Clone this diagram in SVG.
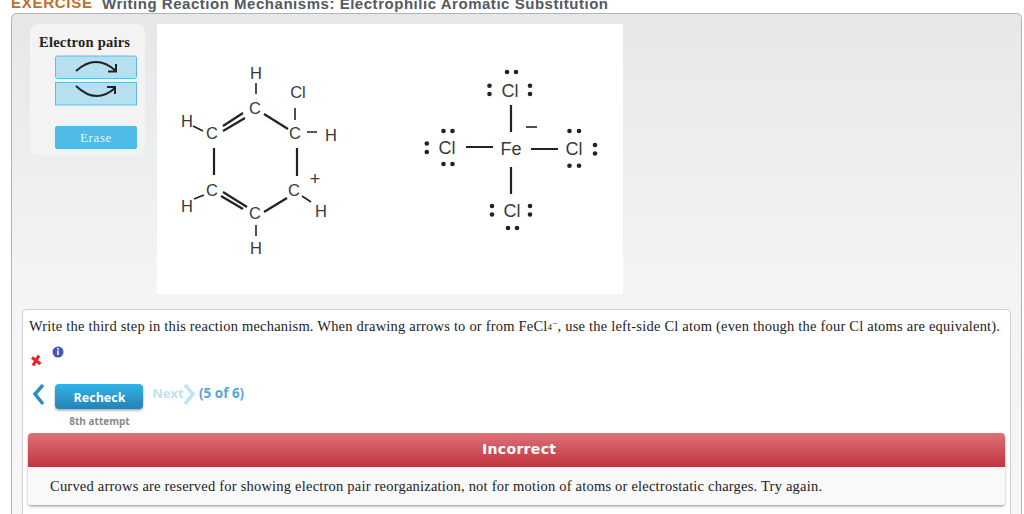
<svg xmlns="http://www.w3.org/2000/svg" width="1024" height="514" viewBox="0 0 1024 514">
<defs>
<linearGradient id="panelG" x1="0" y1="0" x2="0" y2="1"><stop offset="0" stop-color="#e6e7e9"/><stop offset="0.55" stop-color="#f4f4f5"/><stop offset="1" stop-color="#f6f6f6"/></linearGradient>
<linearGradient id="btnG" x1="0" y1="0" x2="0" y2="1"><stop offset="0" stop-color="#30b4e8"/><stop offset="1" stop-color="#2a80b4"/></linearGradient>
<linearGradient id="redG" x1="0" y1="0" x2="0" y2="1"><stop offset="0" stop-color="#dc7378"/><stop offset="1" stop-color="#c2343f"/></linearGradient>
<filter id="sh" x="-5%" y="-5%" width="110%" height="115%"><feDropShadow dx="0" dy="1.5" stdDeviation="1.2" flood-color="#000" flood-opacity="0.35"/></filter>
</defs>
<style>
.m{font-family:"Liberation Sans",Arial,sans-serif;fill:#3a3a3a}
.a{font-size:16.500px;text-anchor:middle}
.f{font-size:18px;text-anchor:middle}
.s{font-family:"Liberation Serif","Times New Roman",serif}
.b{font-family:"Liberation Sans",Arial,sans-serif;font-weight:700}
.o{font-family:"Open Sans","Liberation Sans",sans-serif;font-weight:700}
.bond{stroke:#222;stroke-width:2.2;fill:none;stroke-linecap:butt}
.thin{stroke:#222;stroke-width:1.6;fill:none}
.dot{fill:#222}
.arr{stroke:#222;stroke-width:2;fill:none}
</style>
<rect width="1024" height="514" fill="#fff"/>
<g id="header">
<text class="b" x="11" y="8" font-size="15" fill="#bd6f2c" textLength="81">EXERCISE</text>
<text class="b" x="102" y="9" font-size="15" fill="#555a60" textLength="506">Writing Reaction Mechanisms: Electrophilic Aromatic Substitution</text>
</g>
<rect id="outer-panel" x="11.500" y="13.500" width="1010" height="520" rx="5" fill="url(#panelG)" stroke="#b4b4b4"/>
<g id="toolbar">
<rect x="30" y="24" width="115" height="131" rx="8" fill="#f3f3f4"/>
<text class="s" x="39" y="47" font-size="14.500" font-weight="700" fill="#222" textLength="91">Electron pairs</text>
<rect x="55.500" y="56" width="81" height="22.500" rx="2" fill="#b6dff0" stroke="#5cbce4"/>
<rect x="55.500" y="82.500" width="81" height="22.500" fill="#b6dff0" stroke="#5cbce4"/>
<path class="arr" d="M76 71Q96 53 116 71M108 71.500L116 71.500L116 64"/>
<path class="arr" d="M76 86Q96 105 115 88M107 87L115 87L115 94"/>
<rect x="55" y="126" width="82" height="23" rx="2" fill="#4dbae8"/>
<text class="s" x="96" y="142" font-size="13" fill="#e8f6fc" text-anchor="middle" letter-spacing="0.600">Erase</text>
</g>
<rect id="canvas" x="157" y="24" width="466" height="270" fill="#fff"/>
<g id="connectors">
<path class="thin" d="M256 83V94"/>
<path class="bond" d="M214 148V175M297 148V176"/>
<path class="thin" d="M193 126L203 131"/>
<path class="bond" d="M223 126L243 113M223 131L245 118"/>
<path class="bond" d="M264 114L288 129"/>
<path class="thin" d="M295 108V120M307 132H317"/>
<path class="thin" d="M302 196L311 202"/>
<path class="thin" d="M194 199L204 195"/>
<path class="bond" d="M221 196L243 209M223 192L247 207"/>
<path class="bond" d="M264 212L287 198"/>
<path class="thin" d="M256 225V236"/>
<path class="bond" d="M511 105V132M466 147H493M531 149H558M511 167V194"/>
<path class="thin" d="M526 127H537"/>
</g>
<g id="arene">
<text class="m a" x="256" y="79">H</text>
<text class="m a" x="298" y="98">Cl</text>
<text class="m a" x="255" y="114">C</text>
<text class="m a" x="187" y="127">H</text>
<text class="m a" x="212" y="139">C</text>
<text class="m a" x="295" y="139">C</text>
<text class="m a" x="331" y="141">H</text>
<text class="m a" x="212" y="196">C</text>
<text class="m a" x="294" y="196">C</text>
<text class="m" x="315" y="185" font-size="18" text-anchor="middle" fill="#222">+</text>
<text class="m a" x="187" y="212">H</text>
<text class="m a" x="321" y="217">H</text>
<text class="m a" x="255" y="219">C</text>
<text class="m a" x="256" y="254">H</text>
</g>
<g id="fecl4">
<text class="m f" x="510" y="97">Cl</text>
<text class="m f" x="447" y="154">Cl</text>
<text class="m f" x="511" y="155">Fe</text>
<text class="m f" x="574" y="155">Cl</text>
<text class="m f" x="512" y="217">Cl</text>
<g class="dot">
<circle cx="507" cy="72" r="2.300"/><circle cx="516" cy="72" r="2.300"/>
<circle cx="489.500" cy="85.700" r="2.300"/><circle cx="489.500" cy="94" r="2.300"/>
<circle cx="530" cy="85.700" r="2.300"/><circle cx="530" cy="94" r="2.300"/>
<circle cx="443.500" cy="131" r="2.300"/><circle cx="452.500" cy="131" r="2.300"/>
<circle cx="443.500" cy="164" r="2.300"/><circle cx="452.500" cy="164" r="2.300"/>
<circle cx="426.800" cy="143.500" r="2.300"/><circle cx="426.800" cy="152" r="2.300"/>
<circle cx="569.500" cy="131" r="2.300"/><circle cx="579" cy="131" r="2.300"/>
<circle cx="569.500" cy="165.700" r="2.300"/><circle cx="579" cy="165.700" r="2.300"/>
<circle cx="595" cy="145" r="2.300"/><circle cx="595" cy="153.500" r="2.300"/>
<circle cx="492" cy="206" r="2.300"/><circle cx="492" cy="214.500" r="2.300"/>
<circle cx="530" cy="206" r="2.300"/><circle cx="530" cy="214.500" r="2.300"/>
<circle cx="508" cy="228" r="2.300"/><circle cx="517" cy="228" r="2.300"/>
</g>
</g>
<g id="question">
<rect x="22.500" y="309.500" width="988" height="215" rx="4" fill="#fff" stroke="#cfcfcf"/>
<text class="s" x="29" y="331" font-size="14.500" fill="#222" textLength="971">Write the third step in this reaction mechanism. When drawing arrows to or from FeCl<tspan font-size="9" dy="-1">4</tspan><tspan font-size="9" dy="-4">−</tspan><tspan dy="5">, use the left-side Cl atom (even though the four Cl atoms are equivalent).</tspan></text>
<path d="M33 365.500L39 355.500M32 357.500L40.500 364" stroke="#e8222c" stroke-width="3" fill="none"/>
<circle cx="58" cy="352" r="5.500" fill="#4a55b8"/>
<rect x="57.200" y="348" width="1.600" height="1.600" fill="#fff"/><rect x="57.200" y="350.500" width="1.600" height="4.500" fill="#fff"/>
<path d="M43 385L35 394L43 404" stroke="#2a8fc0" stroke-width="3.500" fill="none"/>
<rect x="55" y="384" width="88" height="25" rx="4" fill="url(#btnG)" filter="url(#sh)"/>
<text class="o" x="99.500" y="402" font-size="12.500" fill="#fff" text-anchor="middle">Recheck</text>
<text class="o" x="168" y="398" font-size="13" fill="#bde3f5" text-anchor="middle">Next</text>
<path d="M185 385L193 394L185 404" stroke="#bde3f5" stroke-width="3.500" fill="none"/>
<text class="o" x="199" y="398" font-size="13.500" fill="#5aa5d2">(5 of 6)</text>
<text class="o" x="99.500" y="425" font-size="10" fill="#8a8a8a" text-anchor="middle">8th attempt</text>
</g>
<g id="feedback">
<rect x="28" y="433" width="977" height="72" rx="4" fill="#f9f9f9" filter="url(#sh)"/>
<path d="M28 467V437a4 4 0 0 1 4-4H1001a4 4 0 0 1 4 4V467Z" fill="url(#redG)"/>
<text x="519" y="454" font-family="DejaVu Sans,sans-serif" font-weight="700" font-size="14" fill="#fff" text-anchor="middle" textLength="74">Incorrect</text>
<text class="s" x="50" y="491" font-size="14.500" fill="#222" textLength="772">Curved arrows are reserved for showing electron pair reorganization, not for motion of atoms or electrostatic charges. Try again.</text>
</g>
</svg>
